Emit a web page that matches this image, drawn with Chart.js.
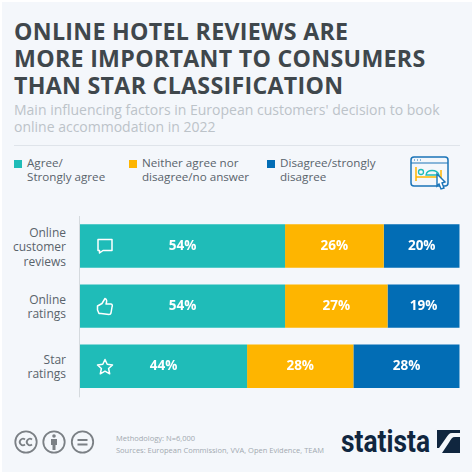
<!DOCTYPE html>
<html>
<head>
<meta charset="utf-8">
<title>Online hotel reviews</title>
<script src="https://cdn.jsdelivr.net/npm/chart.js@4"></script>
<style>
html, body { margin: 0; padding: 0; background: #fff; }
body { width: 474px; height: 474px; overflow: hidden; position: relative; font-family: "Open Sans", sans-serif; }
#card { position: absolute; left: 2px; top: 2px; width: 470px; height: 470px; background: #f4f7fb; }
#title { position: absolute; left: 14px; top: 18px; font-size: 23.2px; line-height: 27px; font-weight: 700; color: #3f474c; letter-spacing: 0.3px; white-space: nowrap; }
#subtitle { position: absolute; left: 14px; top: 102px; font-size: 14px; line-height: 16.7px; color: #bcc3c9; white-space: nowrap; }
#rule { position: absolute; left: 14px; top: 145px; width: 446px; height: 1px; background: #dfe4ea; }
.legend { position: absolute; top: 156px; font-size: 11.65px; line-height: 14.3px; color: #59636b; white-space: nowrap; }
.swatch { position: absolute; top: 160px; width: 8px; height: 8px; }
.cat { position: absolute; right: 408px; font-size: 12px; line-height: 14.3px; color: #59636b; text-align: right; white-space: nowrap; }
#chart { position: absolute; left: 0; top: 200px; }
#notes { position: absolute; left: 116px; top: 433px; font-size: 7.5px; line-height: 11.5px; color: #a2a9b0; white-space: nowrap; }
#brand { position: absolute; left: 341px; top: 423px; font-family: "Roboto", sans-serif; font-size: 31px; font-weight: 700; color: #10263f; line-height: 38px; transform: scaleX(0.85); transform-origin: left; }
svg { position: absolute; overflow: visible; }
</style>
</head>
<body>
<div id="card"></div>
<div id="title">ONLINE HOTEL REVIEWS ARE<br>MORE IMPORTANT TO CONSUMERS<br>THAN STAR CLASSIFICATION</div>
<div id="subtitle">Main influencing factors in European customers' decision to book<br>online accommodation in 2022</div>
<div id="rule"></div>

<div class="swatch" style="left:14px;background:#1fbcb8"></div>
<div class="legend" style="left:27px">Agree/<br>Strongly agree</div>
<div class="swatch" style="left:129px;background:#feb500"></div>
<div class="legend" style="left:142px">Neither agree nor<br>disagree/no answer</div>
<div class="swatch" style="left:267px;background:#026db5"></div>
<div class="legend" style="left:280px">Disagree/strongly<br>disagree</div>

<svg style="left:410px;top:156px" width="40" height="36" viewBox="0 0 40 36" fill="none">
  <rect x="1" y="1" width="37" height="29" rx="3" stroke="#1a74b8" stroke-width="1.5"/>
  <path d="M1 7H38" stroke="#1a74b8" stroke-width="1.2"/>
  <path d="M4 4h1M7 4h1M10 4h1" stroke="#1a74b8"/>
  <path d="M6 11V25M6 21H31M31 14V25" stroke="#feb500" stroke-width="1.5"/>
  <circle cx="11" cy="16" r="2.5" stroke="#1fbcb8" stroke-width="1.3"/>
  <path d="M16 19c1-6 11-6 13 0z" stroke="#1fbcb8" stroke-width="1.3"/>
  <path d="M27 18l8 8-3 1 2 5-3 1-2-5-2 2z" fill="#fff" stroke="#1a74b8" stroke-width="1.4"/>
</svg>

<div class="cat" style="top:226px">Online<br>customer<br>reviews</div>
<div class="cat" style="top:293px">Online<br>ratings</div>
<div class="cat" style="top:353px">Star<br>ratings</div>

<canvas id="chart" width="474" height="200"></canvas>

<svg style="left:96px;top:238px" width="18" height="18" viewBox="0 0 18 18" fill="none" stroke="#fff" stroke-width="1.5" stroke-linejoin="round">
  <path d="M2 1.5H16V12.5H7L3.5 15V12.5H2z"/>
</svg>
<svg style="left:96px;top:297px" width="18" height="19" viewBox="0 0 18 19" fill="none" stroke="#fff" stroke-width="1.5" stroke-linejoin="round">
  <path d="M1.5 9L6 6.5L9 1.5C11 2 11 4.5 10 7H15C16.5 7 16.5 9 16 10L15 16C14.8 17 14 17.5 13 17.5L5 16.5H3L1.5 13z"/>
</svg>
<svg style="left:96px;top:358px" width="18" height="18" viewBox="0 0 18 18" fill="none" stroke="#fff" stroke-width="1.5" stroke-linejoin="round">
  <path d="M9 1.5L11.2 6.3L16.5 7L12.6 10.5L13.7 15.8L9 13.2L4.3 15.8L5.4 10.5L1.5 7L6.8 6.3z"/>
</svg>

<svg style="left:14px;top:430px" width="82" height="24" viewBox="0 0 82 24" fill="none" stroke="#7b8085" stroke-width="1.8">
  <circle cx="12" cy="12" r="10.7"/>
  <circle cx="40" cy="12" r="10.7"/>
  <circle cx="68.5" cy="12" r="10.7"/>
  <path d="M11 9.5a3.2 3.2 0 1 0 0 5M18 9.5a3.2 3.2 0 1 0 0 5"/>
  <circle cx="40" cy="6" r="1.8" fill="#7b8085" stroke="none"/>
  <path d="M37 9h6v6h-1.5v5h-3v-5H37z" fill="#7b8085" stroke="none"/>
  <path d="M63.5 10h10M63.5 14.5h10" stroke-width="2"/>
</svg>
<div id="notes">Methodology: N=6,000<br>Sources: European Commission, VVA, Open Evidence, TEAM</div>
<div id="brand">statista</div>
<svg style="left:436.5px;top:430px" width="23" height="23" viewBox="0 0 23 23">
  <path d="M0 0H23V3H15C12 3 11 5 9 8L2 18H0z" fill="#10263f"/>
  <path d="M23 7V23H5L12 12.5C14 9 15 7 18 7z" fill="#10263f"/>
</svg>

<script>
const categories = ['Online customer reviews', 'Online ratings', 'Star ratings'];
const agree = [54, 54, 44];
const neither = [26, 27, 28];
const disagree = [20, 19, 28];
const seriesNames = ['Agree/Strongly agree', 'Neither agree nor disagree/no answer', 'Disagree/strongly disagree'];
const tealColor = '#1fbcb8';
const yellowColor = '#feb500';
const blueColor = '#026db5';

// Note: prints the share in the middle of each segment
const segmentLabels = {
    id: 'segmentLabels',
    afterDatasetsDraw(chart) {
        const ctx = chart.ctx;
        ctx.save();
        ctx.fillStyle = '#ffffff';
        ctx.font = '700 13.5px "Open Sans"';
        ctx.textAlign = 'center';
        ctx.textBaseline = 'middle';
        chart.data.datasets.forEach((dataset, d) => {
            chart.getDatasetMeta(d).data.forEach((bar, i) => {
                ctx.fillText(`${dataset.data[i]}%`, (bar.base + bar.x) / 2, bar.y);
            });
        });
        ctx.restore();
    }
};

// Note: thin vertical axis line behind the bars
const baseLine = {
    id: 'baseLine',
    beforeDatasetsDraw(chart) {
        const ctx = chart.ctx;
        ctx.save();
        ctx.strokeStyle = '#d5dade';
        ctx.lineWidth = 1;
        ctx.beginPath();
        ctx.moveTo(chart.scales.x.left - 0.5, chart.chartArea.top);
        ctx.lineTo(chart.scales.x.left - 0.5, chart.chartArea.bottom + 1);
        ctx.stroke();
        ctx.restore();
    }
};

new Chart(document.getElementById('chart').getContext('2d'), {
    type: 'bar',
    data: {
        labels: categories,
        datasets: [
            { label: seriesNames[0], data: agree, backgroundColor: tealColor },
            { label: seriesNames[1], data: neither, backgroundColor: yellowColor },
            { label: seriesNames[2], data: disagree, backgroundColor: blueColor },
        ],
    },
    options: {
        indexAxis: 'y',
        responsive: false,
        animation: false,
        layout: { padding: { left: 80, right: 14.3, top: 16, bottom: 3.7 } },
        datasets: { bar: { barPercentage: 0.722, categoryPercentage: 1 } },
        plugins: { legend: { display: false }, tooltip: { enabled: false } },
        scales: {
            x: { stacked: true, min: 0, max: 100, display: false },
            y: { stacked: true, display: false },
        },
    },
    plugins: [segmentLabels, baseLine],
});
</script>
</body>
</html>
